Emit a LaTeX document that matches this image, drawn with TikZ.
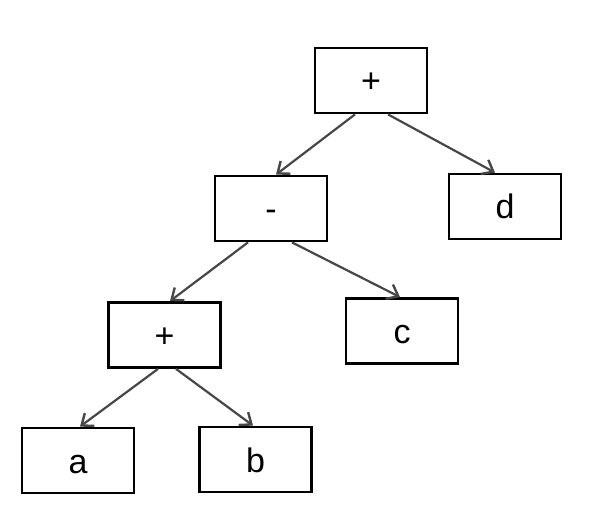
\documentclass[tikz,border=0pt]{standalone}
\usepackage{fontspec}
\setmainfont{Liberation Sans}
\usetikzlibrary{arrows.meta}
\begin{document}
\begin{tikzpicture}[x=1pt,y=1pt,
  box/.style={draw=black,line width=2.8pt,rectangle,minimum width=112pt,minimum height=65pt,inner sep=0pt,text height=25pt,text depth=0pt,font=\fontsize{34}{36}\selectfont},
  edge/.style={draw=black!72,line width=2.2pt,-{Straight Barb[length=10pt,width=16pt,line width=2.4pt]}}]
\useasboundingbox (0,0) rectangle (593,509);
\node[box] (top) at (371,428.5) {+};
\node[box] (minus) at (271,300.5) {-};
\node[box] (d) at (505,302.5) {d};
\node[box] (plus) at (164.5,174) {+};
\node[box] (c) at (402,178) {c};
\node[box] (a) at (78,48.5) {a};
\node[box] (b) at (255.5,49.5) {b};
\draw[edge] ([xshift=-16pt]top.south) -- ([xshift=5pt]minus.north);
\draw[edge] ([xshift=17pt]top.south) -- ([xshift=-10pt]d.north);
\draw[edge] ([xshift=-23pt]minus.south) -- ([xshift=5.5pt]plus.north);
\draw[edge] ([xshift=21pt]minus.south) -- ([xshift=-2pt]c.north);
\draw[edge] ([xshift=-6.5pt]plus.south) -- ([xshift=2pt]a.north);
\draw[edge] ([xshift=11.5pt]plus.south) -- ([xshift=-2.5pt]b.north);
\end{tikzpicture}
\end{document}
